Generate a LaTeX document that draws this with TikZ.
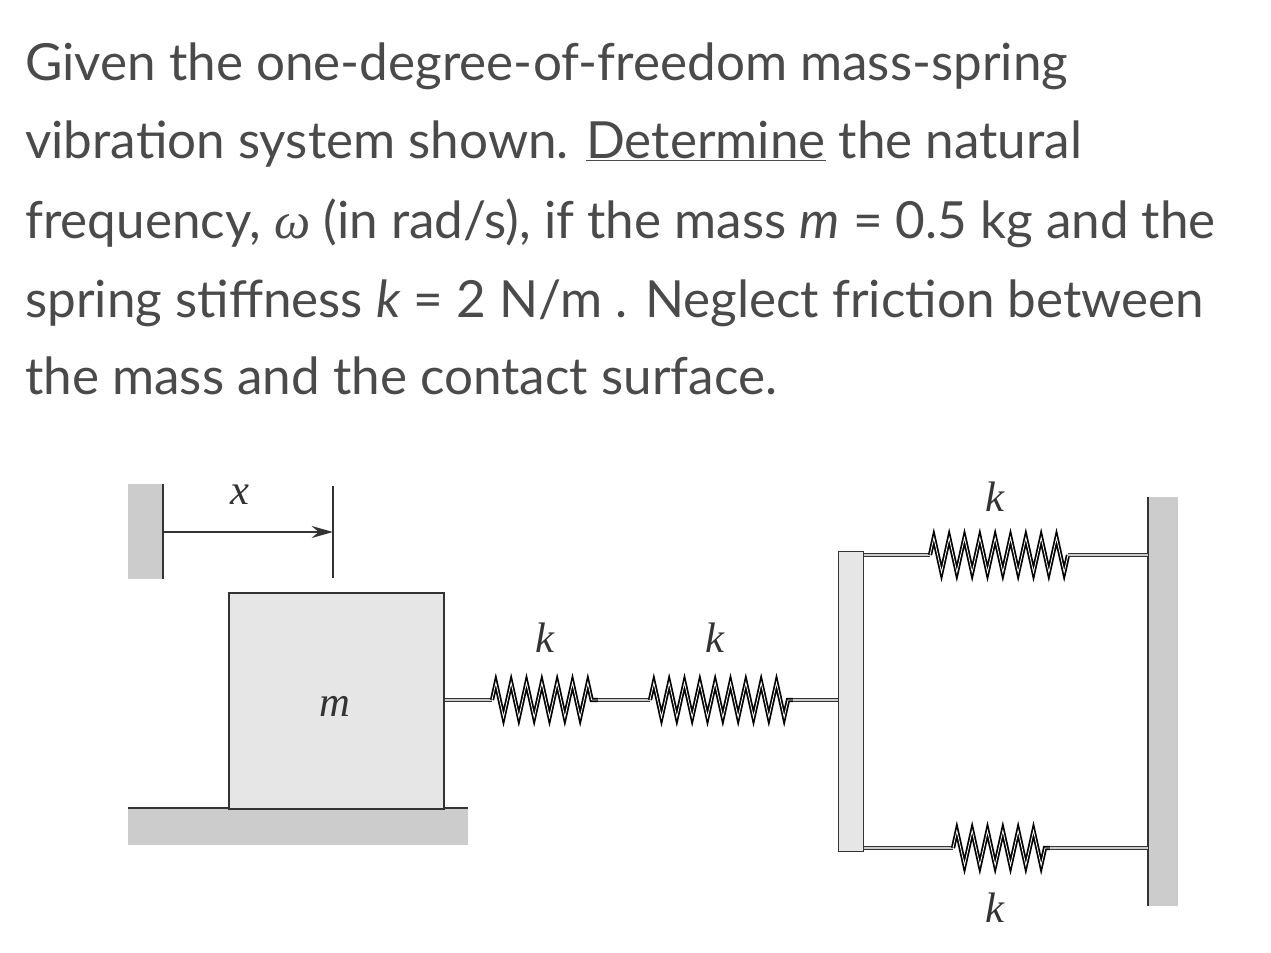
\documentclass[tikz,border=0pt]{standalone}
\usepackage{fontspec}
\setmainfont{Lato}
\newfontfamily\serifit{Liberation Serif}
\usetikzlibrary{decorations.pathmorphing,arrows.meta}
\definecolor{txt}{HTML}{4A4A4A}
\definecolor{wallg}{HTML}{CCCCCC}
\definecolor{massg}{HTML}{E6E6E6}
\begin{document}
\begin{tikzpicture}[x=0.75pt,y=-0.75pt,
  line/.style={anchor=base west,text=txt,font=\fontsize{38.4}{44}\selectfont,inner sep=0},
  lbl/.style={font=\fontsize{32}{32}\selectfont\serifit\itshape,text=black!80,inner sep=0},
  rod/.style={draw=black!80,double=wallg,double distance=2.2pt,line width=0.6pt},
  spring/.style={draw=black,double=white,double distance=0.6pt,line width=1.3pt,
    decorate,decoration={zigzag,segment length=11.5pt,amplitude=13pt}},
  wall/.style={fill=wallg,draw=none}]
\useasboundingbox (0,0) rectangle (1271,953);
% text
\node[line] (t1) at (25,80) {Given the one-degree-of-freedom mass-spring};
\node[line] (t2) at (25,158) {vibration system shown. \underline{Determine} the natural};
\node[line] (t3) at (25,238) {frequency, {\serifit\itshape ω} (in rad/s), if the mass \textit{m} = 0.5 kg and the};
\node[line] (t4) at (25,317) {spring stiffness \textit{k} = 2 N/m . Neglect friction between};
\node[line] (t5) at (25,394) {the mass and the contact surface.};
% left wall and x arrow
\fill[wall] (128,484) rectangle (163,579);
\draw[black!80,line width=1.2pt] (163,484) -- (163,579);
\coordinate (xs) at (163,532);
\coordinate (xe) at (333,532);
\draw[black!80,line width=1.2pt] (333,486) -- (333,578);
\draw[black!80,line width=1.2pt,-{Stealth[length=16pt,width=9pt]}] (xs) -- (xe);
\node[lbl] (xl) at (240,495) {x};
% ground
\fill[wall] (128,808) rectangle (468,845);
\draw[black!80,line width=1.5pt] (128,808) -- (468,808);
% mass
\node[draw=black!80,fill=massg,line width=1.2pt,minimum width=161.25pt,minimum height=162pt,inner sep=0,anchor=north west] (mass) at (228,592) {};
\node[lbl] (ml) at (335,706) {m};
% bar
\node[draw=black!80,fill=massg,line width=1pt,minimum width=18.75pt,minimum height=225pt,inner sep=0,anchor=north west] (bar) at (838,551) {};
% right wall
\fill[wall] (1148,497) rectangle (1178,906);
\draw[black!80,line width=1.2pt] (1148,497) -- (1148,906);
% middle chain
\coordinate (a1) at (mass.east |- 0,700);
\coordinate (s1a) at (492,700);
\coordinate (s1b) at (598,700);
\coordinate (s2a) at (650,700);
\coordinate (s2b) at (793,700);
\coordinate (b1) at (bar.west |- 0,700);
\draw[rod] (a1) -- (s1a);
\draw[spring] (s1a) -- (s1b);
\draw[rod] (s1b) -- (s2a);
\draw[spring] (s2a) -- (s2b);
\draw[rod] (s2b) -- (b1);
% top
\coordinate (tb) at (bar.east |- 0,555);
\coordinate (ts1) at (930,555);
\coordinate (ts2) at (1068,555);
\coordinate (tw) at (1148,555);
\draw[rod] (tb) -- (ts1);
\draw[spring] (ts1) -- (ts2);
\draw[rod] (ts2) -- (tw);
% bottom
\coordinate (bb) at (bar.east |- 0,848);
\coordinate (bs1) at (953,848);
\coordinate (bs2) at (1050,848);
\coordinate (bw) at (1148,848);
\draw[rod] (bb) -- (bs1);
\draw[spring] (bs1) -- (bs2);
\draw[rod] (bs2) -- (bw);
% labels
\node[lbl] (k1) at (545,638) {k};
\node[lbl] (k2) at (715,638) {k};
\node[lbl] (k3) at (995,497) {k};
\node[lbl] (k4) at (995,908) {k};
\end{tikzpicture}
\end{document}
